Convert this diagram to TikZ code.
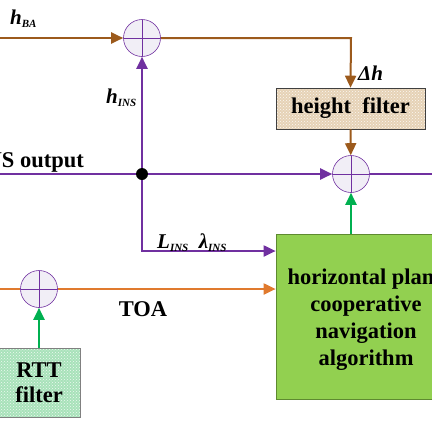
\documentclass[tikz,border=0pt]{standalone}
\usepackage{fontspec}
\setmainfont{Liberation Serif}
\usetikzlibrary{arrows.meta,patterns}
\definecolor{brn}{HTML}{9C5A1C}
\definecolor{org}{HTML}{E07A2E}
\definecolor{pur}{HTML}{7030A0}
\definecolor{grn}{HTML}{00B050}
\definecolor{boxgreen}{HTML}{92D050}
\definecolor{boxgreenline}{HTML}{5E8A30}
\definecolor{tan}{HTML}{E6D2B6}
\definecolor{rttfill}{HTML}{A8E2BA}
\definecolor{sumfill}{HTML}{F1EEF6}
\begin{document}
\begin{tikzpicture}[x=1pt,y=-1pt,
  sum/.style={circle, draw=pur, fill=sumfill, minimum size=37pt, inner sep=0pt, line width=0.6pt,
    path picture={\draw[pur, line width=0.6pt] (path picture bounding box.north) -- (path picture bounding box.south)
      (path picture bounding box.west) -- (path picture bounding box.east);}},
  big/.style={font=\fontsize{22.5}{27}\selectfont\bfseries},
  lab/.style={font=\fontsize{21}{24}\selectfont\bfseries\itshape, inner sep=0pt},
  tip/.style={-{Triangle[length=12pt,width=11pt]}},
  wire/.style={line width=2pt},
]
\useasboundingbox (0,0) rectangle (432,432);
\clip (0,0) rectangle (432,432);

% summing junctions
\node[sum] (s1) at (142,38) {};
\node[sum] (s2) at (351,174) {};
\node[sum] (s3) at (39,289) {};

% boxes
\node[big, draw=black!75, line width=0.6pt, preaction={fill=tan}, pattern=crosshatch dots, pattern color=white!85!tan,
  minimum width=149pt, minimum height=41pt, inner sep=0pt] (hf) at (350.5,108.5) {height\ \ filter};
\node[draw=boxgreenline, fill=boxgreen, line width=0.7pt, minimum width=180pt, minimum height=165pt,
  inner sep=0pt] (alg) at (366,316.5) {};
\node[big, align=center, inner sep=0pt, yshift=-3pt] (algtxt) at (alg.center) {horizontal plane\\cooperative\\navigation\\algorithm};
\node[big, draw=black!50, line width=0.6pt, preaction={fill=rttfill}, pattern=crosshatch dots, pattern color=white!80!rttfill,
  minimum width=82pt, minimum height=69pt, align=center, inner sep=0pt, font=\fontsize{22.5}{25}\selectfont\bfseries] (rtt) at (39,382.5) {RTT\\filter};

% junction dot and helper coordinates
\node[circle, fill=black, minimum size=12pt, inner sep=0pt] (jd) at (142,174) {};
\coordinate (inA) at (0,38);
\coordinate (inB) at (0,174);
\coordinate (inC) at (0,289);
\coordinate (c1) at (351,38);
\coordinate (c2) at (142,251);
\coordinate (outR) at (432,174);

% brown h_BA path
\draw[brn, wire, tip] (inA) -- (s1);
\draw[brn, wire, tip] (s1) -- (c1) -- (hf.north);
\draw[brn, wire, tip] (hf.south) -- (s2);

% purple INS paths
\draw[pur, wire] (inB) -- (jd);
\draw[pur, wire, tip] (jd) -- (s2);
\draw[pur, wire, tip] (jd) -- (s1);
\draw[pur, wire, tip] (jd) -- (c2) -- (alg.west |- c2);
\draw[pur, wire] (s2) -- (outR);

% green
\draw[grn, wire, tip] (alg.north -| s2) -- (s2);
\draw[grn, wire, tip] (rtt.north) -- (s3);

% orange TOA
\draw[org, wire] (inC) -- (s3);
\draw[org, wire, tip] (s3) -- (alg.west |- s3);

% labels
\node[lab, anchor=base west] (lba) at (10,24) {h\raisebox{-3pt}{\fontsize{11}{11}\selectfont BA}};
\node[lab, anchor=base west] (lins) at (106,103) {h\raisebox{-3pt}{\fontsize{11}{11}\selectfont INS}};
\node[lab, anchor=base west] (ldh) at (358,80) {Δh};
\node[lab, anchor=base west] (ll) at (157,248) {L\raisebox{-3pt}{\fontsize{11}{11}\selectfont INS}\ \ λ\raisebox{-3pt}{\fontsize{11}{11}\selectfont INS}};
\node[big, anchor=base east, inner sep=0pt] (lout) at (84,167) {INS output};
\node[big, anchor=base, inner sep=0pt] (ltoa) at (143,316) {TOA};
\end{tikzpicture}
\end{document}
